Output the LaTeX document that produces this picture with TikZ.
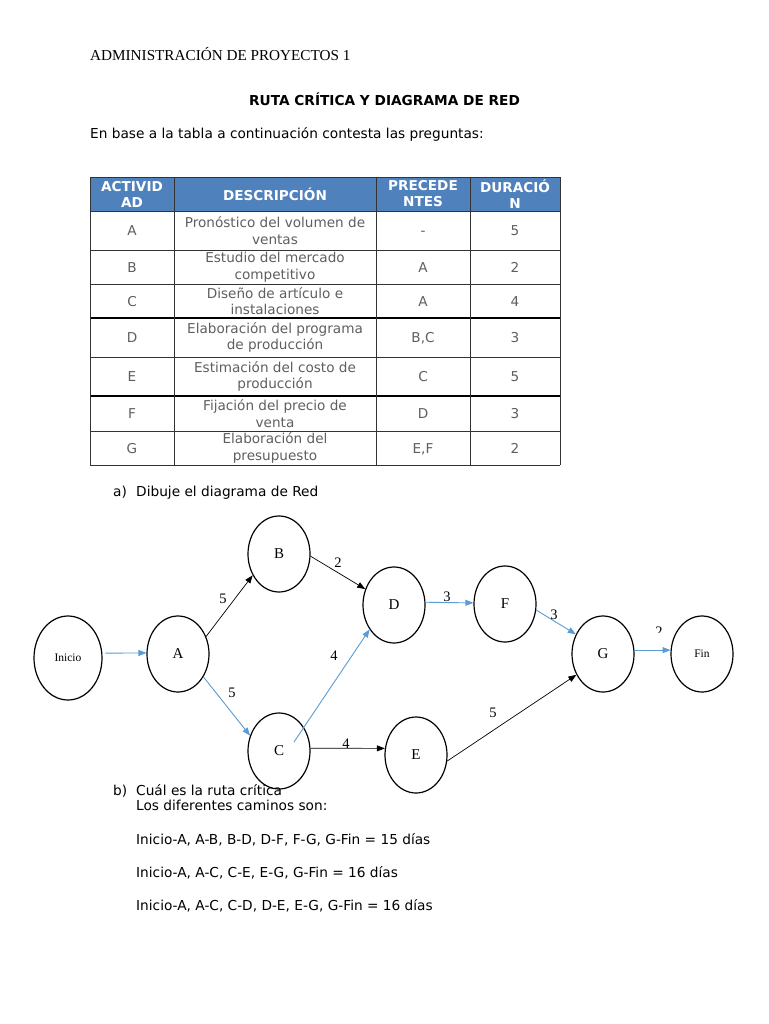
\documentclass[tikz,border=0pt]{standalone}
\usepackage{fontspec}
\setmainfont{DejaVu Sans}
\newfontfamily\docserif{Liberation Serif}
\usepackage{tikz}
\usetikzlibrary{arrows.meta, shapes.geometric, calc}

\definecolor{hdrblue}{HTML}{4F81BD}
\definecolor{critblue}{HTML}{5B9BD5}
\definecolor{celltext}{HTML}{5F5F5F}

\begin{document}
\begin{tikzpicture}[x=1pt, y=-1pt,
    body/.style={font=\fontsize{13.7}{16.5}\selectfont, inner sep=0pt},
    hdr/.style={font=\fontsize{13.6}{16}\selectfont\bfseries, text=white, align=center, inner sep=0pt},
    cell/.style={font=\fontsize{13.6}{16.5}\selectfont, text=celltext, align=center, inner sep=0pt},
    short/.style={font=\fontsize{13.6}{16.5}\selectfont, text=celltext, inner sep=0pt, anchor=base},
    act/.style={draw, ellipse, line width=1.2pt, minimum width=62pt, minimum height=76pt, inner sep=0pt, font=\docserif\fontsize{15}{15}\selectfont},
    small/.style={font=\docserif\fontsize{11.5}{12}\selectfont},
    dur/.style={font=\docserif\fontsize{14.5}{15}\selectfont, inner sep=0pt},
    crit/.style={critblue, line width=0.9pt, -{Triangle[length=8pt,width=6pt]}},
    noncrit/.style={black, line width=0.7pt, -{Triangle[length=8pt,width=6pt]}}
  ]
    \fill[white] (0,0) rectangle (768,1024);
    \useasboundingbox (0,0) rectangle (768,1024);

    % encabezado
    \node[anchor=base west, inner sep=0pt, font=\docserif\fontsize{15.2}{16}\selectfont] (curso) at (90,60.5) {ADMINISTRACIÓN DE PROYECTOS 1};
    \node[body, anchor=base, font=\fontsize{13.7}{16}\selectfont\bfseries] (tema) at (384.5,106) {RUTA CRÍTICA Y DIAGRAMA DE RED};
    \node[body, anchor=base west] (intro) at (90,139) {En base a la tabla a continuación contesta las preguntas:};

    % tabla
    \fill[hdrblue] (90,177) rectangle (560,211);
    \foreach \yy in {177,211,250,284,357,431,465}
      \draw[line width=0.8pt, black!80] (90,\yy) -- (560,\yy);
    \foreach \yy in {318,396}
      \draw[line width=1.8pt] (90,\yy) -- (560,\yy);
    \foreach \xx in {90,174,376,470,560}
      \draw[line width=0.8pt, black!80] (\xx,177) -- (\xx,465);
    \node[hdr] (h-act) at (132,194) {ACTIVID\\AD};
    \node[hdr] (h-desc) at (275,194) {DESCRIPCIÓN};
    \node[hdr] (h-prec) at (423,194) {PRECEDE\\NTES};
    \node[hdr] (h-dur) at (515,194) {DURACIÓ\\N};
    \foreach \yc/\ac/\de/\pr/\du [count=\i] in {
        230.5/A/{Pronóstico del volumen de\\ventas}/-/5,
        267/B/{Estudio del mercado\\competitivo}/A/2,
        301/C/{Diseño de artículo e\\instalaciones}/A/4,
        337.5/D/{Elaboración del programa\\de producción}/{B,C}/3,
        376.5/E/{Estimación del costo de\\producción}/C/5,
        413.5/F/{Fijación del precio de\\venta}/D/3,
        448/G/{Elaboración del\\presupuesto}/{E,F}/2} {
      \node[short] (c-act\i) at (132,\yc+5) {\ac};
      \node[cell] (c-desc\i) at (275,\yc) {\de};
      \node[short] (c-prec\i) at (423,\yc+5) {\pr};
      \node[short] (c-dur\i) at (515,\yc+5) {\du};
    }

    % preguntas
    \node[body, anchor=base west] (qa) at (113,496) {a)};
    \node[body, anchor=base west] (qa-txt) at (136,496) {Dibuje el diagrama de Red};
    \node[body, anchor=base west] (qb) at (113,795) {b)};
    \node[body, anchor=base west] (qb-txt) at (136,795) {Cuál es la ruta crítica};
    \node[body, anchor=base west] (caminos) at (136,810.5) {Los diferentes caminos son:};
    \node[body, anchor=base west] (ruta1) at (136,844) {Inicio-A, A-B, B-D, D-F, F-G, G-Fin = 15 días};
    \node[body, anchor=base west] (ruta2) at (136,877) {Inicio-A, A-C, C-E, E-G, G-Fin = 16 días};
    \node[body, anchor=base west] (ruta3) at (136,910) {Inicio-A, A-C, C-D, D-E, E-G, G-Fin = 16 días};

    % diagrama de red
    \node[act, small, minimum width=68pt, minimum height=84pt] (inicio) at (68,658) {Inicio};
    \node[act] (A) at (178,654) {A};
    \node[act] (B) at (279,554) {B};
    \node[act] (C) at (279,751) {C};
    \node[act] (D) at (394,605) {D};
    \node[act] (E) at (416,755) {E};
    \node[act] (F) at (505,604) {F};
    \node[act] (G) at (603,654) {G};
    \node[act, small] (fin) at (702,654) {Fin};
    \coordinate (c-in) at ($(C)+(15,-9)$);

    \draw[crit, shorten <=3pt] (inicio.8) -- (A.178);
    \draw[noncrit] (A.32) -- (B.219);
    \draw[crit] (A.318) -- (C.152);
    \draw[noncrit] (B.356) -- (D.151);
    \draw[crit] (c-in) -- (D.225);
    \draw[noncrit] (C.5) -- (E.168);
    \draw[crit] (D.5) -- (F.178);
    \draw[crit] (F.349) -- (G.144);
    \draw[noncrit] (E.349) -- (G.218);
    \draw[crit] (G.7) -- (fin.173);

    \node[dur] (d-AB) at (223,599) {5};
    \node[dur] (d-AC) at (232,693) {5};
    \node[dur] (d-BD) at (338,563) {2};
    \node[dur] (d-CD) at (334,656) {4};
    \node[dur] (d-CE) at (346,744) {4};
    \node[dur] (d-DF) at (447,597) {3};
    \node[dur] (d-FG) at (554,615) {3};
    \node[dur] (d-EG) at (493,713) {5};
    \begin{scope}
      \clip (640,600) rectangle (680,632);
      \node[dur] (d-GF) at (659,632) {2};
    \end{scope}
\end{tikzpicture}
\end{document}
